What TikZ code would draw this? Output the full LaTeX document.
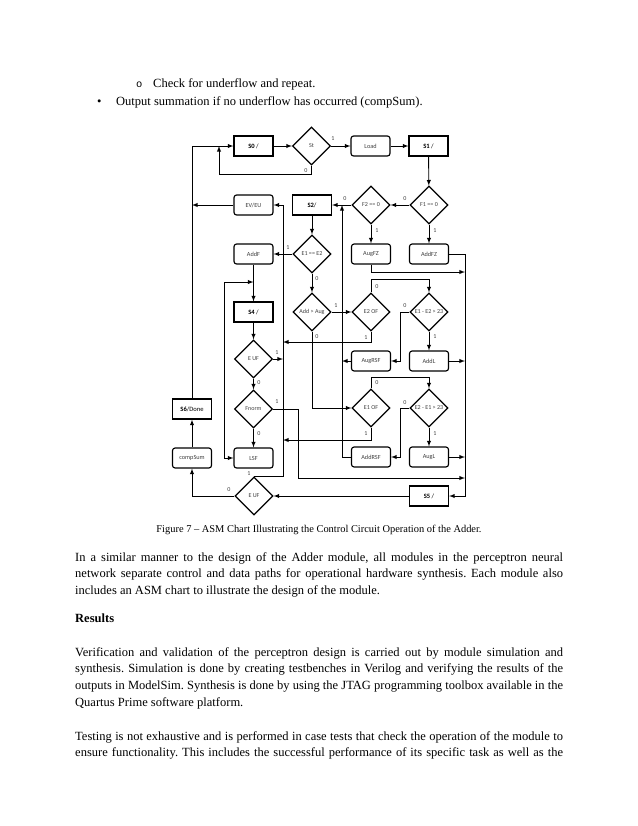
\documentclass[tikz,border=0pt]{standalone}
\usepackage{fontspec}
\setmainfont{Liberation Serif}
\newfontfamily\chartfont{Carlito}
\newfontfamily\bulletfont{Liberation Mono}
\usetikzlibrary{arrows,shapes,positioning,calc}
\frenchspacing

\begin{document}
\begin{tikzpicture}[x=0.95925pt,y=-0.95925pt,>=latex,
  state/.style={draw,line width=1.2pt,minimum width=37.4pt,minimum height=19.2pt,inner sep=1pt,font=\chartfont\fontsize{6.3}{7}\selectfont},
  cond/.style={draw,line width=1.1pt,rounded corners=2.5pt,minimum width=37.4pt,minimum height=19.2pt,inner sep=1pt,font=\chartfont\fontsize{6}{7}\selectfont,text=black!75},
  test/.style={draw,diamond,aspect=1,line width=1.1pt,minimum width=36.5pt,minimum height=36.5pt,inner sep=0pt,font=\chartfont\fontsize{5.8}{7}\selectfont,text=black!75},
  lbl/.style={inner sep=0pt,font=\chartfont\fontsize{5.8}{7}\selectfont,text=black!75},
  wire/.style={line width=0.85pt},
  body/.style={anchor=base west,inner sep=0pt,font=\fontsize{12pt}{16pt}\selectfont},
  para/.style={body,text width=468pt,align=justify}]

\useasboundingbox (0,0) rectangle (638,826);
\fill[white] (0,0) rectangle (638,826);

% text above the chart
\node[body,font=\bulletfont\fontsize{10pt}{16pt}\selectfont] (subbul) at (136,87) {o};
\node[body] (subline) at (153,87) {Check for underflow and repeat.};
\node[body] (bul) at (97,105) {•};
\node[body] (bulline) at (116,105) {Output summation if no underflow has occurred (compSum).};

% states and boxes
\node[state] (szero) at (253.5,146) {\textbf{S0} /};
\node[test] (st) at (311.5,146) {St};
\node[cond] (load) at (370.5,146) {Load};
\node[state] (sone) at (428.5,146) {\textbf{S1} /};

\node[cond] (evu) at (253.5,205) {EV/EU};
\node[state] (stwo) at (312,205) {\textbf{S2}/};
\node[test] (ftwo) at (371,205) {F2 == 0};
\node[test] (fone) at (429,205) {F1 == 0};

\node[cond] (addf) at (253.5,254) {AddF};
\node[test] (eeq) at (312,254) {E1 == E2};
\node[cond] (augfz) at (371,254) {AugFZ};
\node[cond] (addfz) at (429,254) {AddFZ};

\node[state] (sfour) at (253.5,312) {\textbf{S4} /};
\node[test] (addaug) at (312,312) {Add > Aug};
\node[test] (etwoof) at (371,312) {E2 OF};
\node[test] (diffone) at (429,312) {E1 - E2 > 23};

\node[test] (eufa) at (253.5,359) {E UF};
\node[cond] (augrsf) at (371,361) {AugRSF};
\node[cond] (addl) at (429,361) {AddL};

\node[state] (sdone) at (192,409) {\textbf{S6}/Done};
\node[test] (fnorm) at (253.5,409) {Fnorm};
\node[test] (eoneof) at (371,408) {E1 OF};
\node[test] (difftwo) at (429,408) {E2 - E1 > 23};

\node[cond] (compsum) at (192,458) {compSum};
\node[cond] (lsf) at (253.5,458) {LSF};
\node[cond] (addrsf) at (371,457) {AddRSF};
\node[cond] (augl) at (429,457) {AugL};

\node[test] (eufb) at (254,496) {E UF};
\node[state] (sfive) at (429,496) {\textbf{S5} /};

% junctions
\coordinate (stback) at (219,146);
\coordinate (lsfturn) at (224,282);
\coordinate (lsfback) at (253.5,282);
\coordinate (busl) at (283,205);
\coordinate (jtwo) at (283,342);
\coordinate (jone) at (283,440);
\coordinate (rsfback) at (342,205);
\coordinate (busr) at (465,496);
\coordinate (jfz) at (465,272);
\coordinate (normturn) at (298,478);
\coordinate (jnorm) at (465,478);

% connectors
\draw[wire,->] (szero) -- (st);
\draw[wire,->] (st) -- (load);
\draw[wire,->] (load) -- (sone);
\draw[wire,->] (st.south) -- ++(0,9) -| (stback);
\draw[wire,->] (sdone.north) |- (szero.west);
\draw[wire,->] (evu.west) -- (evu.west -| sdone.north);
\draw[wire,->] (sone) -- (fone);
\draw[wire,->] (fone) -- (ftwo);
\draw[wire,->] (ftwo) -- (stwo);
\draw[wire,->] (fone) -- (addfz);
\draw[wire,->] (ftwo) -- (augfz);
\draw[wire,->] (stwo) -- (eeq);
\draw[wire,->] (eeq) -- (addf);
\draw[wire,->] (eeq) -- (addaug);
\draw[wire,->] (addf) -- (sfour);
\draw[wire,<->] (lsf.west) -| (lsfturn) -- (lsfback);
\draw[wire,->] (sfour) -- (eufa);
\draw[wire,->] (eufa) -- (fnorm);
\draw[wire,->] (fnorm) -- (lsf);
\draw[wire,->] (eufa.east) -- (eufa.east -| busl);
\draw[wire,->] (eufb.north) -| (busl) -- (evu.east);
\draw[wire,->] (etwoof.south) |- (jtwo);
\draw[wire,->] (eoneof.south) |- (jone);
\draw[wire,->] (addaug) -- (etwoof);
\draw[wire,->] (addaug.south) |- (eoneof.west);
\draw[wire,->] (etwoof.north) -- ++(0,-13) -| (diffone.north);
\draw[wire,->] (eoneof.north) -- ++(0,-11) -| (difftwo.north);
\draw[wire,->] (diffone.west) -- ++(-9,0) |- (augrsf.east);
\draw[wire,->] (difftwo.west) -- ++(-9,0) |- (addrsf.east);
\draw[wire,->] (diffone) -- (addl);
\draw[wire,->] (difftwo) -- (augl);
\draw[wire,->] (augrsf.west) -- (augrsf.west -| rsfback);
\draw[wire,->] (addrsf.west) -| (rsfback);
\draw[wire,->] (addfz.east) -| (busr) -- (sfive.east);
\draw[wire,->] (augfz.south) |- (jfz);
\draw[wire,->] (addl.east) -- (addl.east -| busr);
\draw[wire,->] (augl.east) -- (augl.east -| busr);
\draw[wire,->] (fnorm.east) -| (normturn) -- (jnorm);
\draw[wire,->] (sfive) -- (eufb);
\draw[wire,->] (eufb.west) -| (compsum.south);
\draw[wire,->] (compsum) -- (sdone);

% branch labels
\node[lbl] (lstone) at (333,139) {1};
\node[lbl] (lstzero) at (306,171) {0};
\node[lbl] (lftwo) at (345,199) {0};
\node[lbl] (lfone) at (405,199) {0};
\node[lbl] (lftwob) at (377,231) {1};
\node[lbl] (lfoneb) at (435,231) {1};
\node[lbl] (leeq) at (288,248) {1};
\node[lbl] (leeqb) at (317,279) {0};
\node[lbl] (laa) at (336,306) {1};
\node[lbl] (laab) at (317,337) {0};
\node[lbl] (letwo) at (377,287) {0};
\node[lbl] (letwob) at (366,338) {1};
\node[lbl] (ldone) at (405,306) {0};
\node[lbl] (ldoneb) at (435,337) {1};
\node[lbl] (leufa) at (277,353) {1};
\node[lbl] (leufab) at (259,383) {0};
\node[lbl] (leone) at (377,383) {0};
\node[lbl] (leoneb) at (366,434) {1};
\node[lbl] (lfnorm) at (277,402) {1};
\node[lbl] (lfnormb) at (259,434) {0};
\node[lbl] (ldtwo) at (405,403) {0};
\node[lbl] (ldtwob) at (435,434) {1};
\node[lbl] (leufb) at (249,474) {1};
\node[lbl] (leufbl) at (229,490) {0};

% caption and text below
\node[anchor=base,inner sep=0pt,font=\fontsize{10pt}{12pt}\selectfont] (cap) at (319,532) {Figure 7 – ASM Chart Illustrating the Control Circuit Operation of the Adder.};

\node[para] (parone) at (75,561) {In a similar manner to the design of the Adder module, all modules in the perceptron neural\linebreak network separate control and data paths for operational hardware synthesis. Each module also\linebreak includes an ASM chart to illustrate the design of the module.};
\node[body,font=\bfseries\fontsize{12pt}{16pt}\selectfont] (res) at (75,622) {Results};
\node[para] (partwo) at (75,656) {Verification and validation of the perceptron design is carried out by module simulation and\linebreak synthesis. Simulation is done by creating testbenches in Verilog and verifying the results of the\linebreak outputs in ModelSim. Synthesis is done by using the JTAG programming toolbox available in the\linebreak Quartus Prime software platform.};
\node[para] (parthree) at (75,740) {\parfillskip=0pt Testing is not exhaustive and is performed in case tests that check the operation of the module to\linebreak ensure functionality. This includes the successful performance of its specific task as well as the\par};

\end{tikzpicture}
\end{document}
